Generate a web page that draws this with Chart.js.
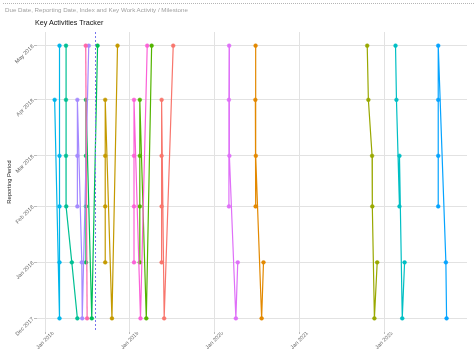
<!DOCTYPE html>
<html>
<head>
<meta charset="utf-8">
<script src="https://cdn.jsdelivr.net/npm/chart.js@4.4.1/dist/chart.umd.min.js"></script>
<style>
  html, body { margin: 0; padding: 0; background: #fff; }
  #wrap { position: relative; width: 474px; height: 353px; overflow: hidden; }
  #chart { position: absolute; left: 0; top: 0; }
  #frame { position: absolute; left: 3px; top: 3px; right: 0; border-top: 1px dotted #b5b5b5; }
  #header { position: absolute; left: 5px; top: 6px; font: 6.2px 'Liberation Sans', Arial, sans-serif; color: #a0a0a0; white-space: nowrap; }
  #title { position: absolute; left: 35px; top: 18px; font: 7.2px 'Liberation Sans', Arial, sans-serif; color: #111; white-space: nowrap; }
</style>
</head>
<body>
<div id="wrap">
  <canvas id="chart" width="474" height="353"></canvas>
  <div id="frame"></div>
  <div id="header">Due Date, Reporting Date, Index and Key Work Activity / Milestone</div>
  <div id="title">Key Activities Tracker</div>
</div>
<script>
// reporting periods on the y axis
const reportingPeriods = ['2017-12-01', '2018-01-01', '2018-02-01', '2018-03-01', '2018-04-01', '2018-05-01'];

// due date reported for each activity, one entry per reporting period (Dec..May)
const activity01 = ['2019-05-29', '2019-05-18', '2019-05-18', '2019-05-18', '2019-05-18', '2019-07-07'];
const activity02 = ['2020-07-22', '2020-07-30', '2020-06-26', '2020-06-27', '2020-06-25', '2020-06-26'];
const activity03 = ['2018-10-16', '2018-09-17', '2018-09-17', '2018-09-17', '2018-09-17', '2018-11-09'];
const activity04 = ['2021-11-20', '2021-12-02', '2021-11-11', '2021-11-10', '2021-10-25', '2021-10-20'];
const activity05 = ['2019-03-13', '2019-02-13', '2019-02-13', '2019-02-13', '2019-02-13', '2019-04-05'];
const activity06 = ['2018-07-21', '2018-06-26', '2018-06-26', '2018-06-26', '2018-06-26', '2018-08-15'];
const activity07 = ['2018-05-20', '2018-04-26', '2018-04-02', '2018-04-01', '2018-04-01', '2018-04-01'];
const activity08 = ['2022-03-20', '2022-03-30', '2022-03-08', '2022-03-08', '2022-02-23', '2022-02-19'];
const activity09 = ['2018-03-04', '2018-03-04', '2018-03-04', '2018-03-04', '2018-02-11', '2018-03-04'];
const activity10 = ['2022-09-27', '2022-09-24', '2022-08-22', '2022-08-22', '2022-08-22', '2022-08-22'];
const activity11 = ['2018-06-10', '2018-06-08', '2018-05-20', '2018-05-20', '2018-05-20', '2018-07-08'];
const activity12 = ['2020-04-02', '2020-04-10', '2020-03-03', '2020-03-05', '2020-03-03', '2020-03-04'];
const activity13 = ['2019-02-16', '2019-01-19', '2019-01-19', '2019-01-19', '2019-01-19', '2019-03-17'];
const activity14 = ['2018-07-01', null, null, null, null, '2018-06-25'];

const activityNames = ['Activity 01', 'Activity 02', 'Activity 03', 'Activity 04', 'Activity 05', 'Activity 06', 'Activity 07',
  'Activity 08', 'Activity 09', 'Activity 10', 'Activity 11', 'Activity 12', 'Activity 13', 'Activity 14'];
const activityDueDates = [activity01, activity02, activity03, activity04, activity05, activity06, activity07,
  activity08, activity09, activity10, activity11, activity12, activity13, activity14];
const activityColors = ['#F8766D', '#E38900', '#C49A00', '#99A800', '#53B400', '#00BC56', '#00C094',
  '#00BFC4', '#00B6EB', '#06A4FF', '#A58AFF', '#DF70F8', '#FB61D7', '#FF66A8'];

// axis ticks and limits
const xTickDates = ['2018-01-01', '2019-01-01', '2020-01-01', '2021-01-01', '2022-01-01'];
const yTickDates = reportingPeriods;
const xLimits = ['2017-11-27', '2022-12-24'];
const markerDate = '2018-08-05';

const monthNames = ['Jan', 'Feb', 'Mar', 'Apr', 'May', 'Jun', 'Jul', 'Aug', 'Sep', 'Oct', 'Nov', 'Dec'];
const toMs = s => Date.parse(s + 'T00:00:00Z');
const fmtDate = v => {
  const d = new Date(v);
  return monthNames[d.getUTCMonth()] + ' ' + d.getUTCFullYear();
};

const datasets = activityNames.map((name, i) => {
  const pts = [];
  activityDueDates[i].forEach((due, j) => {
    if (due) pts.push({ x: toMs(due), y: toMs(reportingPeriods[j]) });
  });
  // join points in order of due date, like geom_line
  pts.sort((a, b) => a.x - b.x || a.y - b.y);
  return {
    label: name,
    data: pts,
    borderColor: activityColors[i],
    backgroundColor: activityColors[i],
    borderWidth: 1.2,
    pointRadius: 1.9,
    pointBorderWidth: 0.5,
    tension: 0,
    order: -i
  };
});

// 5% padding on the reporting period axis
const yLo = toMs(reportingPeriods[0]);
const yHi = toMs(reportingPeriods[reportingPeriods.length - 1]);
const yPad = (yHi - yLo) * 0.05;

const markerLine = {
  id: 'markerLine',
  afterDatasetsDraw(chart) {
    const { ctx, chartArea, scales } = chart;
    const x = Math.round(scales.x.getPixelForValue(toMs(markerDate))) + 0.5;
    ctx.save();
    ctx.strokeStyle = '#7676ec';
    ctx.lineWidth = 1;
    ctx.setLineDash([2, 2]);
    ctx.beginPath();
    ctx.moveTo(x, chartArea.top);
    ctx.lineTo(x, chartArea.bottom);
    ctx.stroke();
    ctx.restore();
  }
};

const tickFont = { family: "'Liberation Sans', Arial, sans-serif", size: 5.5 };

new Chart(document.getElementById('chart'), {
  type: 'line',
  data: { datasets },
  plugins: [markerLine],
  options: {
    responsive: false,
    animation: false,
    layout: { padding: { top: 32, right: 7, left: 0, bottom: 0 } },
    plugins: { legend: { display: false }, tooltip: { enabled: false } },
    scales: {
      x: {
        type: 'linear',
        min: toMs(xLimits[0]),
        max: toMs(xLimits[1]),
        afterBuildTicks: scale => { scale.ticks = xTickDates.map(d => ({ value: toMs(d) })); },
        afterFit: scale => { scale.height = 21; },
        grid: { color: '#e2e2e2', lineWidth: 1, tickLength: 2, tickColor: '#bbb' },
        border: { display: false },
        ticks: {
          autoSkip: false, minRotation: 45, maxRotation: 45,
          labelOffset: 8, padding: -4,
          font: tickFont, color: '#666',
          callback: v => fmtDate(v)
        }
      },
      y: {
        type: 'linear',
        min: yLo - yPad,
        max: yHi + yPad,
        afterBuildTicks: scale => { scale.ticks = yTickDates.map(d => ({ value: toMs(d) })); },
        afterFit: scale => { scale.width = 37; },
        grid: { color: '#e2e2e2', lineWidth: 1, tickLength: 3, tickColor: '#bbb' },
        border: { display: false },
        title: {
          display: true, text: 'Reporting Period', color: '#1a1a1a',
          font: { family: "'Liberation Sans', Arial, sans-serif", size: 5.8 },
          padding: { top: 5.5, bottom: 0 }
        },
        ticks: {
          autoSkip: false, minRotation: 45, maxRotation: 45, padding: 1,
          font: tickFont, color: '#666',
          callback: v => fmtDate(v)
        }
      }
    }
  }
});
</script>
</body>
</html>
